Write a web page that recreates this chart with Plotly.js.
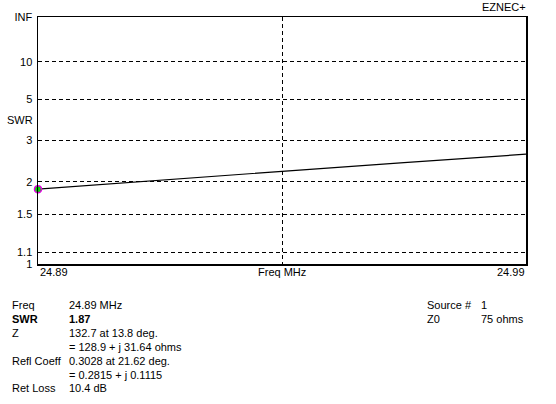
<!DOCTYPE html>
<html><head><meta charset="utf-8">
<script src="https://cdn.plot.ly/plotly-3.0.1.min.js"></script>
<style>html,body{margin:0;padding:0;background:#fff;}#plot{width:556px;height:404px;}</style>
</head><body><div id="plot"></div>
<script>
// Data
const freqMHz = [24.89, 24.915, 24.94, 24.965, 24.99];
const swrValues = [1.87, 2.03, 2.20, 2.39, 2.60];
const markerFreq = [24.89];
const markerSwr = [1.87];
const swrTickValues = [1, 1.1, 1.5, 2, 3, 5, 10];
const swrTickLabels = ["1", "1.1", "1.5", "2", "3", "5", "10", "INF"];
const infoLabels = ["Freq", "SWR", "Z", "", "Refl Coeff", "", "Ret Loss"];
const infoValues = ["24.89 MHz", "1.87", "132.7 at 13.8 deg.", "= 128.9 + j 31.64 ohms", "0.3028 at 21.62 deg.", "= 0.2815 + j 0.1115", "10.4 dB"];
const srcLabels = ["Source #", "Z0"];
const srcValues = ["1", "75 ohms"];

// SWR scale: linear in reflection coefficient
const rho = s => (s - 1) / (s + 1);
const tickRho = swrTickValues.map(rho).concat([1]);

const W = 556, H = 404, L = 38, R = 526, T = 17, B = 264;
const px = (x) => (x - L) / (R - L);
const py = (y) => (B - y) / (B - T);
const FONT = {family: "Liberation Sans, Arial, sans-serif", size: 11, color: "#000"};

const ann = [];
function txt(x, y, text, anchor, bold) {
  ann.push({xref: "paper", yref: "paper", x: px(x), y: py(y), text: bold ? "<b>" + text + "</b>" : text,
    showarrow: false, xanchor: anchor || "left", yanchor: "middle", font: FONT});
}
txt(L, 272, "24.89", "left");
txt(282, 272, "Freq MHz", "center");
txt(R + 1, 272, "24.99", "right");
txt(528, 7, "EZNEC+", "right");
txt(5, 120, "SWR", "left");
infoLabels.forEach((t, i) => { if (t) txt(10, 305 + i * 13.9, t, "left", t === "SWR"); });
infoValues.forEach((t, i) => txt(67, 305 + i * 13.9, t, "left", i === 1));
srcLabels.forEach((t, i) => txt(425, 305 + i * 13.9, t, "left"));
srcValues.forEach((t, i) => txt(479, 305 + i * 13.9, t, "left"));

const traces = [
  {x: freqMHz, y: swrValues.map(rho), type: "scatter", mode: "lines",
   line: {color: "#000", width: 1.2}, hoverinfo: "skip"},
  {x: markerFreq, y: markerSwr.map(rho), type: "scatter", mode: "markers",
   marker: {color: "#00e000", size: 7, line: {color: "#e000e0", width: 1.5}}, hoverinfo: "skip", cliponaxis: false}
];

const layout = {
  width: W, height: H, showlegend: false,
  paper_bgcolor: "#fff", plot_bgcolor: "#fff",
  margin: {l: L, r: W - R, t: T, b: H - B, pad: 0},
  font: FONT,
  xaxis: {range: [24.89, 24.99], tickvals: [24.94], showticklabels: false, ticks: "",
    showgrid: true, gridcolor: "#000", gridwidth: 1, griddash: "4px,3px",
    showline: true, linecolor: "#000", linewidth: 1.5, mirror: true, zeroline: false, fixedrange: true},
  yaxis: {range: [0, 1], tickvals: tickRho, ticktext: swrTickLabels, ticks: "",
    showgrid: true, gridcolor: "#000", gridwidth: 1, griddash: "4px,3px",
    showline: true, linecolor: "#000", linewidth: 1.5, mirror: true, zeroline: false,
    ticklabelstandoff: 2, fixedrange: true, tickfont: FONT},
  annotations: ann
};
Plotly.newPlot("plot", traces, layout, {staticPlot: true, displayModeBar: false});
</script></body></html>
